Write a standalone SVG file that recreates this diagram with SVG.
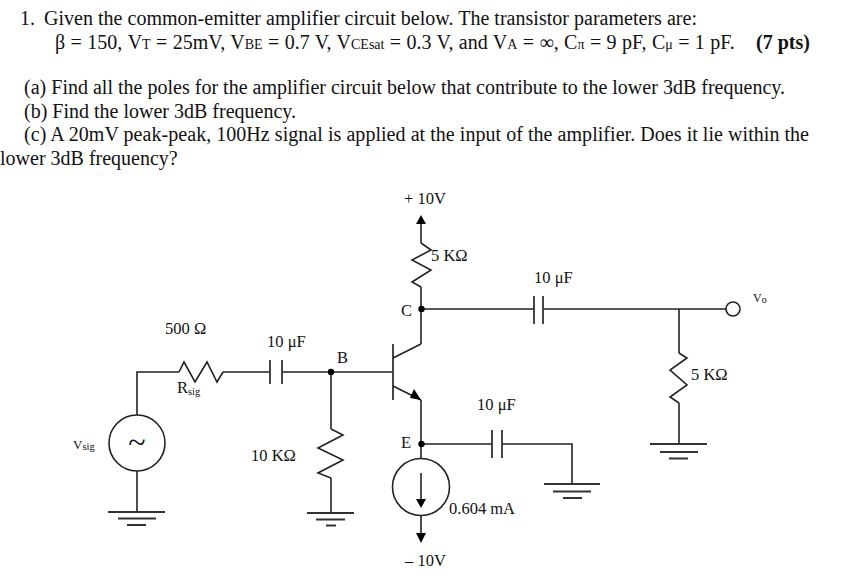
<svg xmlns="http://www.w3.org/2000/svg" width="847" height="587" viewBox="0 0 847 587">
<style>
text{font-family:"Liberation Serif","Times New Roman",serif;fill:#111}
.q{font-size:20px}
.l{font-size:16.5px}
.s{font-size:13px}
.w{fill:none;stroke:#222;stroke-width:1.6}
.g{fill:none;stroke:#333;stroke-width:1.8}
.d{fill:#000}
.a{fill:#000;stroke:none}
</style>
<rect width="847" height="587" fill="#fff"/>
<g id="question">
<text class="q" x="20" y="25">1.</text>
<text class="q" x="44" y="25" textLength="653">Given the common-emitter amplifier circuit below. The transistor parameters are:</text>
<text class="q" x="55" y="49" word-spacing="0.4">β = 150, V<tspan font-size="14">T</tspan> = 25mV, V<tspan font-size="14">BE</tspan> = 0.7 V, V<tspan font-size="14">CEsat</tspan> = 0.3 V, and V<tspan font-size="14">A</tspan> = ∞, C<tspan font-size="14">π</tspan> = 9 pF, C<tspan font-size="14">μ</tspan> = 1 pF.</text>
<text class="q" x="756" y="49" font-weight="bold">(7 pts)</text>
<text class="q" x="24" y="94" textLength="761">(a) Find all the poles for the amplifier circuit below that contribute to the lower 3dB frequency.</text>
<text class="q" x="24" y="118">(b) Find the lower 3dB frequency.</text>
<text class="q" x="24" y="141" textLength="785">(c) A 20mV peak-peak, 100Hz signal is applied at the input of the amplifier. Does it lie within the</text>
<text class="q" x="0" y="165">lower 3dB frequency?</text>
</g>
<g id="connectors" class="w">
<path d="M137 415V372H179"/>
<path d="M137 471V512"/>
<path d="M223 372H270M282 372H393"/>
<path d="M331 372V429M331 478V513"/>
<path d="M421 243V224M421 287V344"/>
<path d="M421 309H534M543 309H726"/>
<path d="M679 309V353M679 403V444"/>
<path d="M421 400V458"/>
<path d="M421 444H492M502 444H572V484"/>
<path d="M421 515V533"/>
</g>
<g id="vsig"><circle class="w" cx="137" cy="443" r="28"/><text x="137" y="453" font-size="32" text-anchor="middle">~</text><text class="s" x="73" y="449">V<tspan font-size="10.5" dy="1">sig</tspan></text></g>
<g id="gnd1"><path class="g" d="M108 512H165M118 518.5H156M127 525H146"/></g>
<g id="rsig"><path class="w" d="M179 372L184 362L195 382L207 362L217 382L223 372"/><text class="l" x="165" y="334">500 Ω</text><text class="l" x="177" y="393">R<tspan font-size="10.5" dy="2">sig</tspan></text></g>
<g id="c1"><path class="g" d="M270 360V384M282 360V384"/><text class="l" x="267" y="347">10 μF</text></g>
<g id="nodeB"><circle class="d" cx="331" cy="372" r="3.2"/><text class="l" x="337" y="363">B</text></g>
<g id="rb"><path class="w" d="M331 429L343 435L318 448L343 460L318 473L331 478"/><text class="l" x="251" y="461">10 KΩ</text></g>
<g id="gnd2"><path class="g" d="M307 513H354M316 519.5H345M326 525.5H336"/></g>
<g id="bjt"><path class="g" d="M393 344V400"/><path class="w" d="M393 358L421 344M393 386L421 400"/><path class="a" d="M421 400L410 398L414 389Z"/></g>
<g id="rc"><path class="a" d="M421 215L426 224H416Z"/><path class="w" d="M421 243L431 250L412 260L431 270L412 282L421 287"/><text class="l" x="404" y="204">+ 10V</text><text class="l" x="431" y="261">5 KΩ</text></g>
<g id="nodeC"><circle class="d" cx="421.5" cy="309" r="3.2"/><text class="l" x="401" y="316">C</text></g>
<g id="c2"><path class="g" d="M534 296V324M543 296V324"/><text class="l" x="534" y="283">10 μF</text></g>
<g id="vo"><circle cx="733" cy="309" r="7" fill="#fff" stroke="#222" stroke-width="1.6"/><text x="753" y="302" font-size="12">V<tspan font-size="10" dy="1">o</tspan></text></g>
<g id="rl"><path class="w" d="M679 353L687 358L670 370L687 385L670 397L679 403"/><text class="l" x="691" y="380">5 KΩ</text></g>
<g id="gnd3"><path class="g" d="M650 444H707M660 452H698M669 458.5H688"/></g>
<g id="nodeE"><circle class="d" cx="421.5" cy="444" r="3.2"/><text class="l" x="401" y="448">E</text></g>
<g id="c3"><path class="g" d="M492 430V458M502 430V458"/><text class="l" x="477" y="410">10 μF</text></g>
<g id="gnd4"><path class="g" d="M544 484H600M553 491.5H591M563 498H582"/></g>
<g id="isrc"><circle class="w" cx="421" cy="487" r="28.5"/><path class="w" d="M421 473V500"/><path class="a" d="M421 508L416 499H426Z"/><text class="l" x="449" y="514">0.604 mA</text></g>
<g id="vee"><path class="a" d="M421 543L416 533H426Z"/><text class="l" x="405" y="566">– 10V</text></g>
</svg>
